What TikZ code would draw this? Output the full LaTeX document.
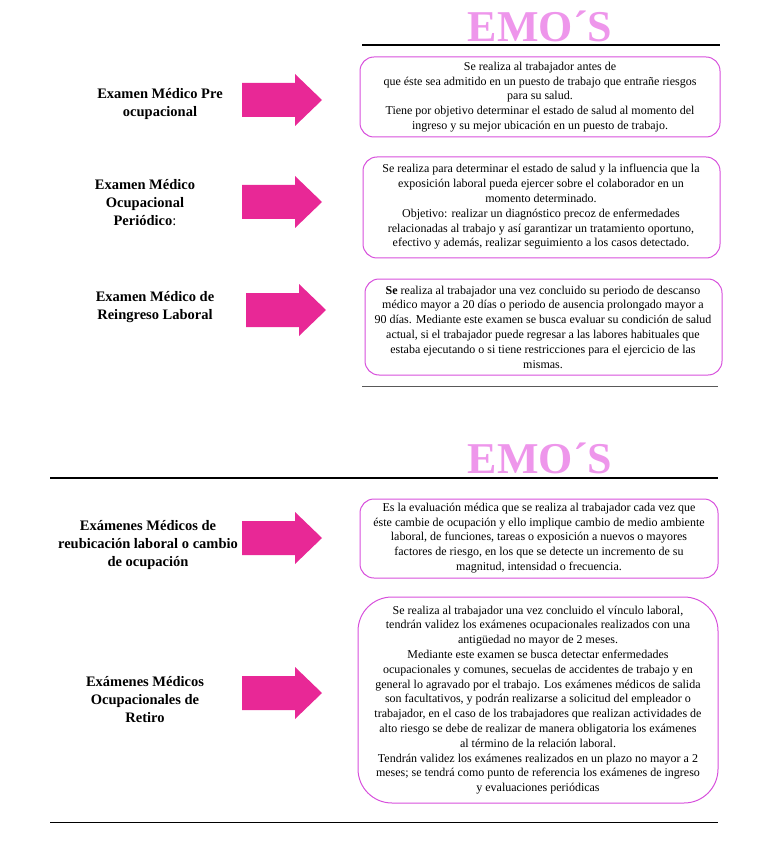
\documentclass[tikz,border=0pt]{standalone}
\usepackage{fontspec}
\setmainfont{Liberation Serif}
\begin{document}
\begin{tikzpicture}[x=1pt,y=-1pt,
  box/.style={draw=boxc,line width=1pt,rounded corners=14pt},
  txt/.style={align=center,font=\fontsize{12}{14.8}\selectfont,inner sep=0pt},
  lab/.style={align=center,font=\fontsize{14.5}{18}\selectfont\bfseries},
  ttl/.style={text=ttlc,font=\fontsize{44}{44}\selectfont\bfseries},
  rule/.style={line width=1.3pt},
  arr/.style={fill=arrc}]
\definecolor{boxc}{RGB}{215,80,220}
\definecolor{ttlc}{RGB}{238,150,235}
\definecolor{arrc}{RGB}{232,40,150}
\useasboundingbox (0,0) rectangle (768,866);
% top section
\node[ttl] (t1) at (540,26) {EMO´S};
\draw[rule] (362,45) -- (720,45);
\draw[box] (360,57) rectangle (720,137);
\node[txt] (b1) at (540,97) {Se realiza al trabajador antes de\\que éste sea admitido en un puesto de trabajo que entrañe riesgos\\para su salud.\\Tiene por objetivo determinar el estado de salud al momento del\\ingreso y su mejor ubicación en un puesto de trabajo.};
\draw[box] (363,157) rectangle (720,258);
\node[txt] (b2) at (541,207) {Se realiza para determinar el estado de salud y la influencia que la\\exposición laboral pueda ejercer sobre el colaborador en un\\momento determinado.\\Objetivo: realizar un diagnóstico precoz de enfermedades\\relacionadas al trabajo y así garantizar un tratamiento oportuno,\\efectivo y además, realizar seguimiento a los casos detectado.};
\draw[box] (365,279) rectangle (722,375);
\node[txt] (b3) at (543,327) {\textbf{Se} realiza al trabajador una vez concluido su periodo de descanso\\médico mayor a 20 días o periodo de ausencia prolongado mayor a\\90 días. Mediante este examen se busca evaluar su condición de salud\\actual, si el trabajador puede regresar a las labores habituales que\\estaba ejecutando o si tiene restricciones para el ejercicio de las\\mismas.};
\draw[line width=1pt,gray!70!black] (362,386) -- (718,386);
\fill[arr,shift={(242,100)}] (0,-17) -- (53,-17) -- (53,-26) -- (80,0) -- (53,26) -- (53,17) -- (0,17) -- cycle;
\fill[arr,shift={(242,202)}] (0,-17) -- (53,-17) -- (53,-26) -- (80,0) -- (53,26) -- (53,17) -- (0,17) -- cycle;
\fill[arr,shift={(246,310)}] (0,-17) -- (53,-17) -- (53,-26) -- (80,0) -- (53,26) -- (53,17) -- (0,17) -- cycle;
\node[lab] (l1) at (160,104) {Examen Médico Pre\\ocupacional};
\node[lab] (l2) at (145,203) {Examen Médico\\Ocupacional\\Periódico\textmd{:}};
\node[lab] (l3) at (155,307) {Examen Médico de\\Reingreso Laboral};
% bottom section
\node[ttl] (t2) at (540,458) {EMO´S};
\draw[rule] (50,478) -- (718,478);
\draw[box] (360,499) rectangle (718,578);
\node[txt] (b4) at (539,538) {Es la evaluación médica que se realiza al trabajador cada vez que\\éste cambie de ocupación y ello implique cambio de medio ambiente\\laboral, de funciones, tareas o exposición a nuevos o mayores\\factores de riesgo, en los que se detecte un incremento de su\\magnitud, intensidad o frecuencia.};
\draw[box,rounded corners=34pt] (358,597) rectangle (718,803);
\node[txt] (b5) at (538,700) {Se realiza al trabajador una vez concluido el vínculo laboral,\\tendrán validez los exámenes ocupacionales realizados con una\\antigüedad no mayor de 2 meses.\\Mediante este examen se busca detectar enfermedades\\ocupacionales y comunes, secuelas de accidentes de trabajo y en\\general lo agravado por el trabajo. Los exámenes médicos de salida\\son facultativos, y podrán realizarse a solicitud del empleador o\\trabajador, en el caso de los trabajadores que realizan actividades de\\alto riesgo se debe de realizar de manera obligatoria los exámenes\\al término de la relación laboral.\\Tendrán validez los exámenes realizados en un plazo no mayor a 2\\meses; se tendrá como punto de referencia los exámenes de ingreso\\y evaluaciones periódicas};
\draw[line width=1pt] (50,822) -- (718,822);
\fill[arr,shift={(242,538)}] (0,-17) -- (53,-17) -- (53,-26) -- (80,0) -- (53,26) -- (53,17) -- (0,17) -- cycle;
\fill[arr,shift={(242,693)}] (0,-17) -- (53,-17) -- (53,-26) -- (80,0) -- (53,26) -- (53,17) -- (0,17) -- cycle;
\node[lab] (l4) at (148,545) {Exámenes Médicos de\\reubicación laboral o cambio\\de ocupación};
\node[lab] (l5) at (145,700) {Exámenes Médicos\\Ocupacionales de\\Retiro};
\end{tikzpicture}
\end{document}
